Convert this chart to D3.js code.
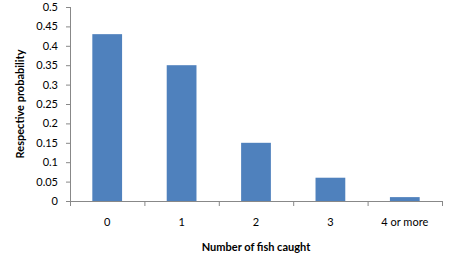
<!DOCTYPE html>
<html>
<head>
<meta charset="utf-8">
<script src="https://cdn.jsdelivr.net/npm/d3@7"></script>
<style>
  body { margin: 0; background: #fff; }
  text { font-family: Lato, "Open Sans", sans-serif; fill: #000; }
</style>
</head>
<body>
<svg id="chart" width="450" height="257"></svg>
<script>
// DATA
const categories = ["0", "1", "2", "3", "4 or more"];
const probabilities = [0.43, 0.35, 0.15, 0.06, 0.01];
const yTicks = [0, 0.05, 0.1, 0.15, 0.2, 0.25, 0.3, 0.35, 0.4, 0.45, 0.5];

// RENDER
const svg = d3.select("#chart");
const plot = { left: 70, right: 442, top: 7, bottom: 201 };

const x = d3.scaleBand().domain(categories).range([plot.left, plot.right]).paddingInner(0.6).paddingOuter(0.3);
const xTickScale = d3.scaleLinear().domain([0, categories.length]).range([plot.left, plot.right]);
const y = d3.scaleLinear().domain([0, 0.5]).range([plot.bottom, plot.top]);

// bars
svg.selectAll(".bar")
  .data(probabilities)
  .enter()
  .append("rect")
  .attr("class", "bar")
  .attr("x", (_, i) => x(categories[i]))
  .attr("width", x.bandwidth())
  .attr("y", d => y(d))
  .attr("height", d => plot.bottom - y(d))
  .attr("fill", "#4F81BD");

// y axis
const yAxis = svg.append("g")
  .attr("transform", `translate(${plot.left},0)`)
  .call(d3.axisLeft(y).tickValues(yTicks).tickSize(4).tickPadding(8).tickFormat(d => String(+d.toFixed(2))));
yAxis.select(".domain").attr("stroke", "#888").attr("d", `M0.5,${plot.top}V${plot.bottom}`);
yAxis.selectAll(".tick line").attr("stroke", "#888");
yAxis.selectAll(".tick text").style("font-size", "11px").style("font-family", "Lato, 'Open Sans', sans-serif");

// x axis
const xAxis = svg.append("g").attr("transform", `translate(0,${plot.bottom})`);
xAxis.append("line")
  .attr("x1", plot.left).attr("x2", plot.right)
  .attr("y1", 0.5).attr("y2", 0.5)
  .attr("stroke", "#888");
xAxis.selectAll(".xtick")
  .data(d3.range(categories.length + 1))
  .enter()
  .append("line")
  .attr("x1", d => xTickScale(d) + 0.5)
  .attr("x2", d => xTickScale(d) + 0.5)
  .attr("y1", 0).attr("y2", 5)
  .attr("stroke", "#888");
xAxis.selectAll(".xlabel")
  .data(categories)
  .enter()
  .append("text")
  .attr("x", d => x(d) + x.bandwidth() / 2)
  .attr("y", 25)
  .attr("text-anchor", "middle")
  .style("font-size", "11px")
  .text(d => d);

// titles
svg.append("text")
  .attr("x", (plot.left + plot.right) / 2)
  .attr("y", 251)
  .attr("text-anchor", "middle")
  .style("font-size", "11px")
  .style("font-weight", "bold")
  .text("Number of fish caught");

svg.append("text")
  .attr("transform", `translate(24,${(plot.top + plot.bottom) / 2}) rotate(-90)`)
  .attr("text-anchor", "middle")
  .style("font-size", "11px")
  .style("font-weight", "bold")
  .text("Respective probability");
</script>
</body>
</html>
